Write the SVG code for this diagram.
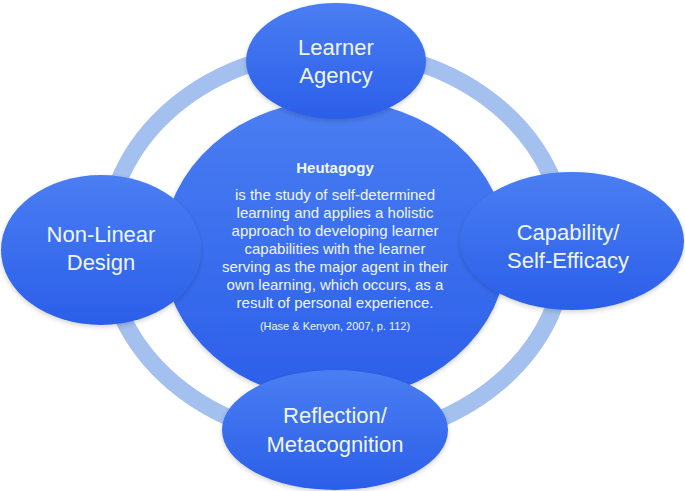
<svg xmlns="http://www.w3.org/2000/svg" width="685" height="491" viewBox="0 0 685 491">
<defs>
<linearGradient id="blue" x1="0" y1="0" x2="0" y2="1">
<stop offset="0" stop-color="#4a7ef2"/>
<stop offset="1" stop-color="#2b5ee9"/>
</linearGradient>
<filter id="sh" x="-10%" y="-10%" width="120%" height="125%">
<feGaussianBlur in="SourceAlpha" stdDeviation="2.5"/>
<feOffset dy="2" result="b"/>
<feComponentTransfer><feFuncA type="linear" slope="0.18"/></feComponentTransfer>
<feMerge><feMergeNode/><feMergeNode in="SourceGraphic"/></feMerge>
</filter>
</defs>
<style>
.shape{fill:url(#blue);filter:url(#sh);}
.lbl{font-family:"Liberation Sans",Arial,sans-serif;fill:#eef6ec;text-anchor:middle;}
.node{font-size:22px;}
.body{font-size:15px;}
.cite{font-size:11px;}
.ring{fill:none;stroke:#a3c0ee;stroke-width:17;}
</style>
<rect width="685" height="491" fill="#ffffff"/>
<g id="connectors">
<ellipse class="ring" cx="336" cy="245" rx="230" ry="195"/>
</g>
<g id="heutagogy">
<ellipse class="shape" cx="335" cy="250" rx="172" ry="150"/>
<text class="lbl body" x="335" y="173" font-weight="bold">Heutagogy</text>
<text class="lbl body" x="335" y="200">is the study of self-determined</text>
<text class="lbl body" x="335" y="218">learning and applies a holistic</text>
<text class="lbl body" x="335" y="236">approach to developing learner</text>
<text class="lbl body" x="335" y="254">capabilities with the learner</text>
<text class="lbl body" x="335" y="272">serving as the major agent in their</text>
<text class="lbl body" x="335" y="290">own learning, which occurs, as a</text>
<text class="lbl body" x="335" y="308">result of personal experience.</text>
<text class="lbl cite" x="335" y="330">(Hase &amp; Kenyon, 2007, p. 112)</text>
</g>
<g id="learner-agency">
<ellipse class="shape" cx="336" cy="61" rx="90" ry="58"/>
<text class="lbl node" x="336" y="55">Learner</text>
<text class="lbl node" x="336" y="83">Agency</text>
</g>
<g id="non-linear-design">
<ellipse class="shape" cx="101" cy="250" rx="100" ry="75"/>
<text class="lbl node" x="101" y="242">Non-Linear</text>
<text class="lbl node" x="101" y="270">Design</text>
</g>
<g id="capability">
<ellipse class="shape" cx="572" cy="241" rx="112" ry="69"/>
<text class="lbl node" x="568" y="240">Capability/</text>
<text class="lbl node" x="568" y="268">Self-Efficacy</text>
</g>
<g id="reflection">
<ellipse class="shape" cx="335" cy="430" rx="113" ry="60"/>
<text class="lbl node" x="335" y="423" font-size="24">Reflection/</text>
<text class="lbl node" x="335" y="452" font-size="24">Metacognition</text>
</g>
</svg>
